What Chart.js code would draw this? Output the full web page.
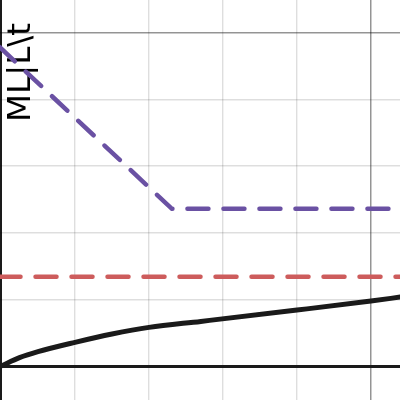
<!DOCTYPE html>
<html>
<head>
<meta charset="utf-8">
<script src="https://cdn.jsdelivr.net/npm/chart.js@4"></script>
<style>
  html, body { margin: 0; padding: 0; background: #fff; }
  #wrap { width: 400px; height: 400px; }
</style>
</head>
<body>
<div id="wrap"><canvas id="chart"></canvas></div>
<script>
// values (x in grid units, y in grid units)
const curveX = [0, 0.25, 0.5, 1, 1.5, 2, 2.7, 4, 5, 5.4];
const curveY = [0, 0.125, 0.215, 0.355, 0.48, 0.58, 0.67, 0.84, 0.976, 1.036];
const redX = [-0.02, 5.4];
const redY = [1.34, 1.34];
const purpleX = [-0.02, 2.31, 5.4];
const purpleY = [4.79, 2.36, 2.36];
const yLabel = 'ML|L\\t';

const xMin = -0.0135, xMax = 5.392;
const yMin = -0.51, yMax = 5.495;

function pts(xs, ys) {
  return xs.map((x, i) => ({ x: x, y: ys[i] }));
}

function gridColor(ctx) {
  const v = ctx.tick ? ctx.tick.value : null;
  if (v === 0) return '#1a1a1a';
  if (v === 5) return 'rgba(0,0,0,0.42)';
  return 'rgba(0,0,0,0.13)';
}
function gridWidth(ctx) {
  const v = ctx.tick ? ctx.tick.value : null;
  if (v === 0) return 3;
  if (v === 5) return 1.5;
  return 1.4;
}

// axis label sits up in the top-left corner, not centred
const labelPlugin = {
  id: 'cornerLabel',
  beforeDatasetsDraw(chart) {
    const c = chart.ctx;
    c.save();
    c.translate(30, 72.5);
    c.rotate(-Math.PI / 2);
    c.font = '32.5px "DejaVu Sans"';
    c.fillStyle = '#000';
    c.textAlign = 'center';
    c.textBaseline = 'alphabetic';
    c.fillText(yLabel, 0, 0);
    c.restore();
  }
};

const ctx = document.getElementById('chart').getContext('2d');
new Chart(ctx, {
  type: 'line',
  data: {
    datasets: [{
      data: pts(curveX, curveY),
      borderColor: '#1a1a1a',
      borderWidth: 5,
      pointRadius: 0,
      cubicInterpolationMode: 'monotone'
    }, {
      data: pts(redX, redY),
      borderColor: '#cd5c5c',
      borderWidth: 4.5,
      borderDash: [21, 15],
      borderCapStyle: 'round',
      pointRadius: 0
    }, {
      data: pts(purpleX, purpleY),
      borderColor: '#6a51a3',
      borderWidth: 4.5,
      borderDash: [21, 15],
      borderCapStyle: 'round',
      pointRadius: 0
    }]
  },
  options: {
    responsive: true,
    maintainAspectRatio: false,
    animation: false,
    layout: { padding: 0 },
    plugins: { legend: { display: false }, tooltip: { enabled: false } },
    scales: {
      x: {
        type: 'linear',
        min: xMin,
        max: xMax,
        border: { display: false },
        ticks: { display: false, stepSize: 1, includeBounds: false },
        grid: { drawTicks: false, color: gridColor, lineWidth: gridWidth }
      },
      y: {
        type: 'linear',
        min: yMin,
        max: yMax,
        border: { display: false },
        ticks: { display: false, stepSize: 1, includeBounds: false },
        grid: { drawTicks: false, color: gridColor, lineWidth: gridWidth }
      }
    }
  },
  plugins: [labelPlugin]
});
</script>
</body>
</html>
